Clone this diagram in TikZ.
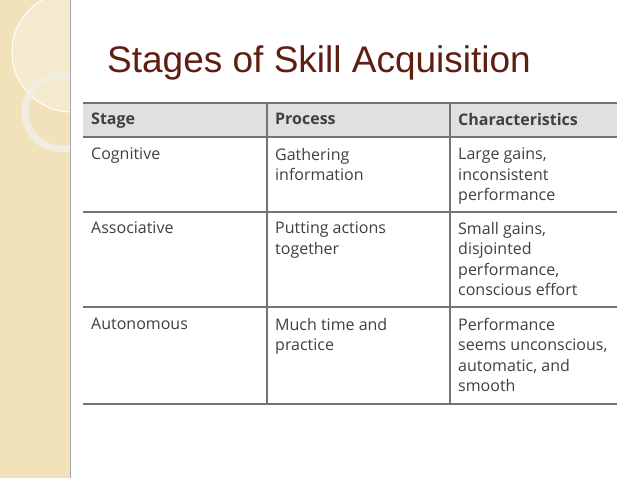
\documentclass[tikz,border=0pt]{standalone}
\usepackage{fontspec}
\setmainfont{Liberation Sans}
\newfontfamily\cellfont{Open Sans}
\definecolor{strip}{RGB}{242,226,186}
\begin{document}
\begin{tikzpicture}[x=1pt,y=-1pt,
  cell/.style={anchor=north west,inner sep=0pt,align=left,font=\cellfont\fontsize{16}{20.5}\selectfont,text=black!75},
  hcell/.style={cell,font=\cellfont\bfseries\fontsize{16}{20.5}\selectfont},
  rule/.style={draw=black!55,line width=1.2pt}]
\useasboundingbox (0,0) rectangle (638,478);
\fill[white] (0,0) rectangle (638,478);
\fill[strip] (0,0) rectangle (70,478);
\begin{scope}
\clip (0,0) rectangle (70,478);
\fill[white,opacity=0.3] (72,52) circle (60);
\draw[white,line width=1pt] (72,52) circle (60);
\draw[black!5!white!70!strip,line width=7pt] (62,112) circle (37);
\end{scope}
\draw[black!35,line width=0.8pt] (70,0) -- (70,478);
\node[anchor=base west,inner sep=0pt,text={rgb,255:red,95;green,30;blue,18},font=\fontsize{37}{42}\selectfont] (title) at (107,73) {Stages of Skill Acquisition};
\fill[black!12] (83,103) rectangle (617,137);
\draw[rule] (83,103) -- (617,103);
\draw[rule] (83,137) -- (617,137);
\draw[rule] (83,212) -- (617,212);
\draw[rule] (83,307) -- (617,307);
\draw[rule] (83,404) -- (617,404);
\draw[rule] (267,103) -- (267,404);
\draw[rule] (450,103) -- (450,404);
\node[hcell] (h1) at (91,113) {Stage};
\node[hcell] (h2) at (275,113) {Process};
\node[hcell] (h3) at (458,113) {Characteristics};
\node[cell] (a1) at (91,148) {Cognitive};
\node[cell] (a2) at (275,148) {Gathering\\information};
\node[cell] (a3) at (458,148) {Large gains,\\inconsistent\\performance};
\node[cell] (b1) at (91,222) {Associative};
\node[cell] (b2) at (275,222) {Putting actions\\together};
\node[cell] (b3) at (458,222) {Small gains,\\disjointed\\performance,\\conscious effort};
\node[cell] (c1) at (91,318) {Autonomous};
\node[cell] (c2) at (275,318) {Much time and\\practice};
\node[cell] (c3) at (458,318) {Performance\\seems unconscious,\\automatic, and\\smooth};
\end{tikzpicture}
\end{document}
